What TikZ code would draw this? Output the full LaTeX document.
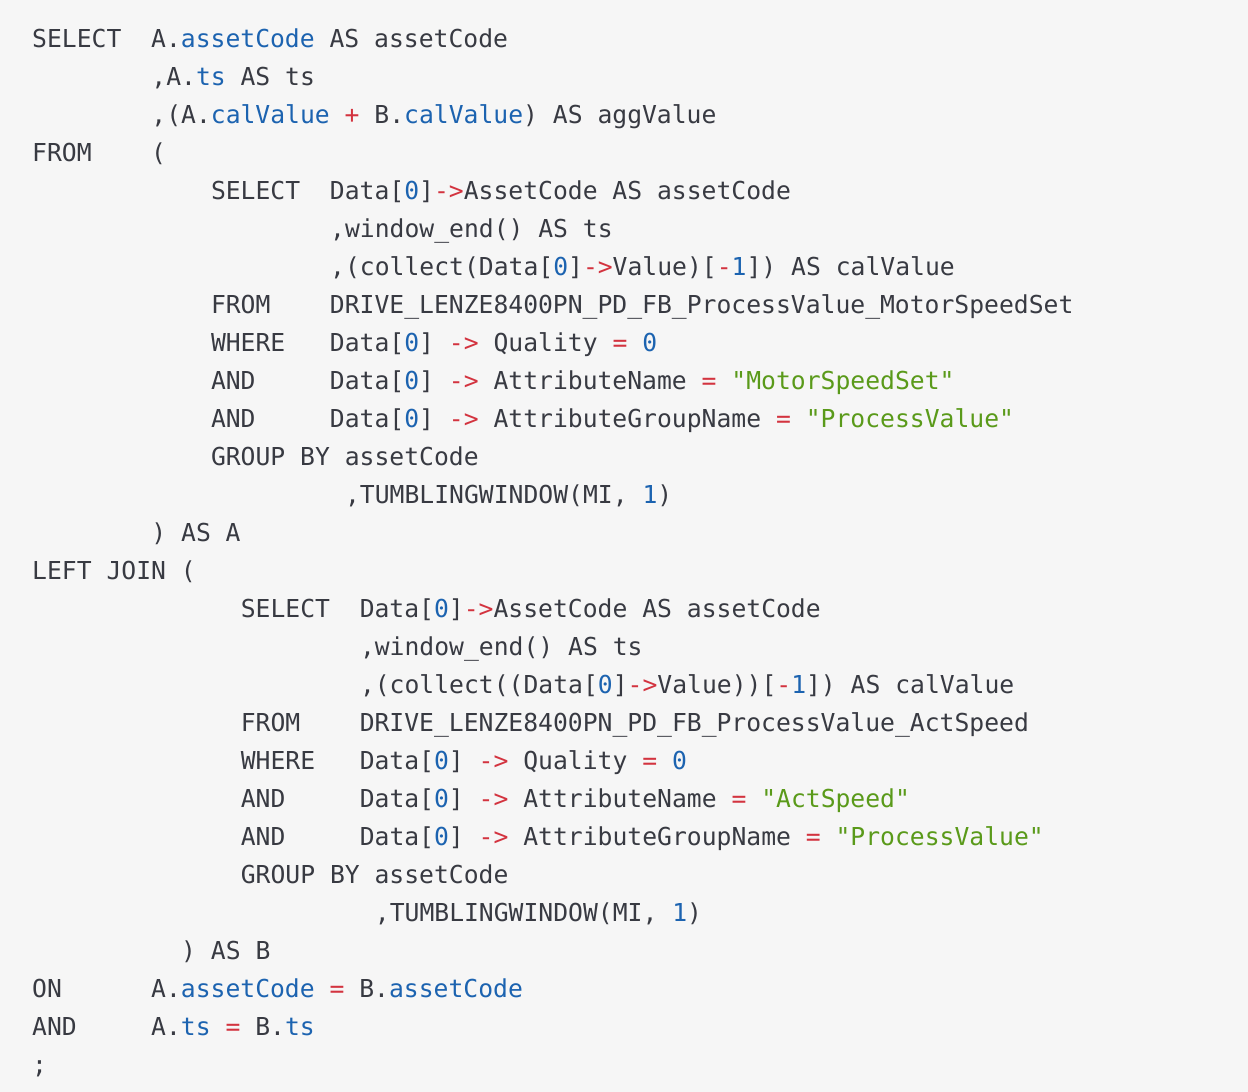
\documentclass[tikz,border=0pt]{standalone}
\usepackage{fontspec}
\setmonofont{DejaVu Sans Mono}
\definecolor{bg}{HTML}{F6F6F6}
\definecolor{tx}{HTML}{383A42}
\definecolor{kb}{HTML}{1C63B0}
\definecolor{kr}{HTML}{D3333F}
\definecolor{kg}{HTML}{5A9A1A}
\newcommand\Bk[1]{\textcolor{kb}{#1}}
\newcommand\Rk[1]{\textcolor{kr}{#1}}
\newcommand\Gk[1]{\textcolor{kg}{#1}}
\newcommand\codeL[3]{\node[codeline] (l#1) at ({32+14.9*#2},{1092-48-38*(#1-1)}) {#3};}
\begin{document}
\begin{tikzpicture}[x=1pt,y=1pt,
  codeline/.style={anchor=base west,inner sep=0pt,text=tx,font=\ttfamily\fontsize{24.7}{38}\selectfont}]
\fill[bg] (0,0) rectangle (1248,1092);
\useasboundingbox (0,0) rectangle (1248,1092);
\codeL{1}{0}{SELECT~~A.\Bk{assetCode}~AS~assetCode}
\codeL{2}{8}{,A.\Bk{ts}~AS~ts}
\codeL{3}{8}{,(A.\Bk{calValue}~\Rk{+}~B.\Bk{calValue})~AS~aggValue}
\codeL{4}{0}{FROM~~~~(}
\codeL{5}{12}{SELECT~~Data[\Bk{0}]\Rk{->}AssetCode~AS~assetCode}
\codeL{6}{20}{,window\_end()~AS~ts}
\codeL{7}{20}{,(collect(Data[\Bk{0}]\Rk{->}Value)[\Rk{-}\Bk{1}])~AS~calValue}
\codeL{8}{12}{FROM~~~~DRIVE\_LENZE8400PN\_PD\_FB\_ProcessValue\_MotorSpeedSet}
\codeL{9}{12}{WHERE~~~Data[\Bk{0}]~\Rk{->}~Quality~\Rk{=}~\Bk{0}}
\codeL{10}{12}{AND~~~~~Data[\Bk{0}]~\Rk{->}~AttributeName~\Rk{=}~\Gk{"MotorSpeedSet"}}
\codeL{11}{12}{AND~~~~~Data[\Bk{0}]~\Rk{->}~AttributeGroupName~\Rk{=}~\Gk{"ProcessValue"}}
\codeL{12}{12}{GROUP~BY~assetCode}
\codeL{13}{21}{,TUMBLINGWINDOW(MI,~\Bk{1})}
\codeL{14}{8}{)~AS~A}
\codeL{15}{0}{LEFT~JOIN~(}
\codeL{16}{14}{SELECT~~Data[\Bk{0}]\Rk{->}AssetCode~AS~assetCode}
\codeL{17}{22}{,window\_end()~AS~ts}
\codeL{18}{22}{,(collect((Data[\Bk{0}]\Rk{->}Value))[\Rk{-}\Bk{1}])~AS~calValue}
\codeL{19}{14}{FROM~~~~DRIVE\_LENZE8400PN\_PD\_FB\_ProcessValue\_ActSpeed}
\codeL{20}{14}{WHERE~~~Data[\Bk{0}]~\Rk{->}~Quality~\Rk{=}~\Bk{0}}
\codeL{21}{14}{AND~~~~~Data[\Bk{0}]~\Rk{->}~AttributeName~\Rk{=}~\Gk{"ActSpeed"}}
\codeL{22}{14}{AND~~~~~Data[\Bk{0}]~\Rk{->}~AttributeGroupName~\Rk{=}~\Gk{"ProcessValue"}}
\codeL{23}{14}{GROUP~BY~assetCode}
\codeL{24}{23}{,TUMBLINGWINDOW(MI,~\Bk{1})}
\codeL{25}{10}{)~AS~B}
\codeL{26}{0}{ON~~~~~~A.\Bk{assetCode}~\Rk{=}~B.\Bk{assetCode}}
\codeL{27}{0}{AND~~~~~A.\Bk{ts}~\Rk{=}~B.\Bk{ts}}
\codeL{28}{0}{;}
\end{tikzpicture}
\end{document}
